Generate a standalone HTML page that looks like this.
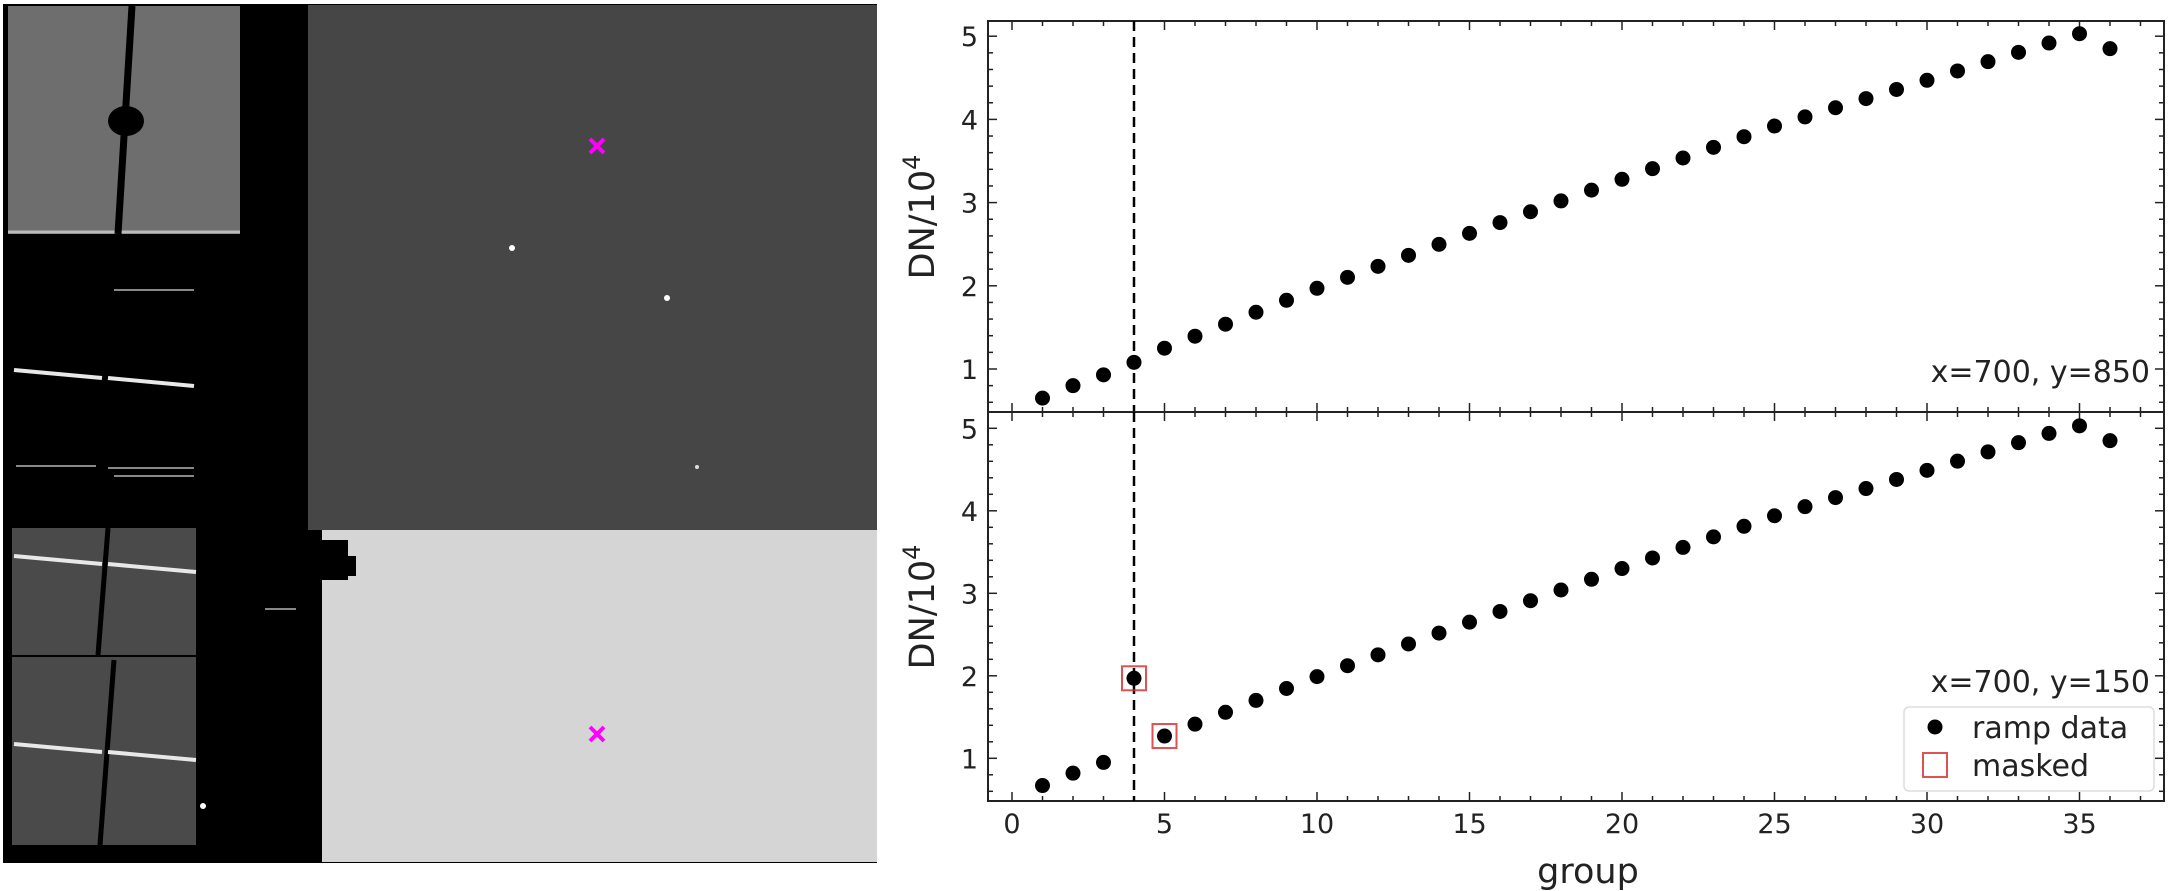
<!DOCTYPE html>
<html><head><style>
html,body{margin:0;padding:0;background:#fff;}
svg{display:block;font-family:"DejaVu Sans","Liberation Sans",sans-serif;}
</style></head><body>
<svg width="2170" height="891" viewBox="0 0 2170 891" xmlns="http://www.w3.org/2000/svg">
<rect width="2170" height="891" fill="#fff"/>
<!-- image panel -->
<g>
<rect x="3" y="4" width="874" height="859" fill="#000"/>
<rect x="308" y="5" width="569" height="525" fill="#464646"/>
<rect x="322" y="530" width="555" height="332" fill="#d5d5d5"/>
<rect x="308" y="540" width="40" height="40" fill="#000"/>
<rect x="322" y="556" width="34" height="20" fill="#000"/>
<rect x="8" y="6" width="232" height="228" fill="#6e6e6e"/>
<line x1="8" y1="232" x2="240" y2="232" stroke="#bbb" stroke-width="3"/>
<line x1="132" y1="6" x2="118" y2="234" stroke="#000" stroke-width="7"/>
<ellipse cx="126" cy="121" rx="18" ry="15" fill="#000"/>
<rect x="12" y="528" width="184" height="127" fill="#4a4a4a"/>
<rect x="12" y="657" width="184" height="188" fill="#4a4a4a"/>
<line x1="108" y1="528" x2="98" y2="655" stroke="#000" stroke-width="5"/>
<line x1="114" y1="660" x2="100" y2="845" stroke="#000" stroke-width="5"/>
<g stroke="#e8e8e8" stroke-width="4">
<line x1="14" y1="370" x2="102" y2="378"/><line x1="108" y1="378" x2="194" y2="386"/>
<line x1="14" y1="556" x2="102" y2="564"/><line x1="108" y1="564" x2="196" y2="572"/>
<line x1="14" y1="744" x2="102" y2="752"/><line x1="108" y1="752" x2="196" y2="760"/>
</g>
<g stroke="#888" stroke-width="2">
<line x1="114" y1="290" x2="194" y2="290"/><line x1="16" y1="466" x2="96" y2="466"/>
<line x1="108" y1="468" x2="194" y2="468"/><line x1="114" y1="476" x2="194" y2="476"/>
<line x1="265" y1="609" x2="296" y2="609"/>
</g>
<circle cx="512" cy="248" r="3" fill="#fff"/><circle cx="667" cy="298" r="3" fill="#fff"/>
<circle cx="697" cy="467" r="2" fill="#ddd"/><circle cx="203" cy="806" r="3" fill="#fff"/>
<g stroke="#ff00ff" stroke-width="4"><line x1="590" y1="139" x2="604" y2="153"/><line x1="604" y1="139" x2="590" y2="153"/>
<line x1="590" y1="727" x2="604" y2="741"/><line x1="604" y1="727" x2="590" y2="741"/></g>
</g>
<!-- plots -->
<g id="plots"></g>
<g font-size="27" fill="#222">
<text x="1588" y="883" font-size="35" text-anchor="middle">group</text>
<text transform="translate(934,217) rotate(-90)" font-size="35" text-anchor="middle">DN/10<tspan font-size="24" dy="-14">4</tspan></text>
<text transform="translate(934,607) rotate(-90)" font-size="35" text-anchor="middle">DN/10<tspan font-size="24" dy="-14">4</tspan></text>
<text x="2150" y="382" font-size="30" text-anchor="end">x=700, y=850</text>
<text x="2150" y="692" font-size="30" text-anchor="end">x=700, y=150</text>
</g>
<rect x="1904" y="707" width="250" height="84" rx="5" fill="#fff" fill-opacity="0.85" stroke="#ddd" stroke-width="1.5"/>
<circle cx="1935" cy="727" r="7.5" fill="#000"/>
<rect x="1923" y="753" width="24" height="24" fill="none" stroke="#d62728" stroke-opacity="0.8" stroke-width="2"/>
<text x="1972" y="738" font-size="30" fill="#222">ramp data</text>
<text x="1972" y="776" font-size="30" fill="#222">masked</text>
</svg>
<script>
(function(){
var ns="http://www.w3.org/2000/svg",g=document.getElementById("plots");
function el(t,a){var e=document.createElementNS(ns,t);for(var k in a)e.setAttribute(k,a[k]);g.appendChild(e);return e;}
var X0=1012,XS=30.5,L=988,R=2164;
function xp(v){return X0+v*XS;}
var key={1:0.65,2:0.80,3:0.93,4:1.08,5:1.25,10:1.97,15:2.63,20:3.28,25:3.92,30:4.47,35:5.03,36:4.85};
function val(i){if(key[i]!==undefined)return key[i];var a=Math.floor(i/5)*5,b=a+5;return key[a]+(key[b]-key[a])*(i-a)/5;}
var axes=[{top:21,bot:412,y1:369,ys:83.2,bump:0},{top:412,bot:801,y1:758.3,ys:82.5,bump:0.02}];
axes.forEach(function(A,idx){
 function yp(v){return A.y1-(v-1)*A.ys;}
 el("rect",{x:L,y:A.top,width:R-L,height:A.bot-A.top,fill:"none",stroke:"#222","stroke-width":2});
 for(var i=0;i<=38;i++){var x=xp(i);if(x>R)break;var len=i%5==0?9:5;
  el("line",{x1:x,y1:A.bot,x2:x,y2:A.bot-len,stroke:"#222","stroke-width":1.5});
  el("line",{x1:x,y1:A.top,x2:x,y2:A.top+len,stroke:"#222","stroke-width":1.5});
  if(idx==1&&i%5==0){var t=el("text",{x:x,y:833,"font-size":27,fill:"#222","text-anchor":"middle"});t.textContent=i;}}
 for(var v=0.6;v<5.25;v+=0.2){var vv=Math.round(v*10)/10;var y=yp(vv);if(y<A.top||y>A.bot)continue;var maj=Math.abs(vv-Math.round(vv))<0.01;var len=maj?9:5;
  el("line",{x1:L,y1:y,x2:L+len,y2:y,stroke:"#222","stroke-width":1.5});
  el("line",{x1:R,y1:y,x2:R-len,y2:y,stroke:"#222","stroke-width":1.5});
  if(maj){var t=el("text",{x:978,y:y+10,"font-size":27,fill:"#222","text-anchor":"end"});t.textContent=Math.round(vv);}}
 el("line",{x1:xp(4),y1:A.top,x2:xp(4),y2:A.bot,stroke:"#000","stroke-width":2.5,"stroke-dasharray":"10,6"});
 for(var i=1;i<=36;i++){var v=val(i)+(i==36||i==35?0:A.bump);if(idx==1&&i==4)v=1.97;
  el("circle",{cx:xp(i),cy:yp(v),r:7.5,fill:"#000"});
  if(idx==1&&(i==4||i==5))el("rect",{x:xp(i)-12,y:yp(v)-12,width:24,height:24,fill:"none",stroke:"#d62728","stroke-opacity":0.8,"stroke-width":2});}
});
})();
</script>
</body></html>
